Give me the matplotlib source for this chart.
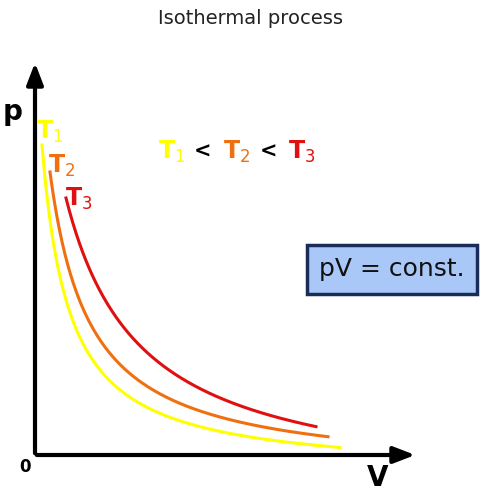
import numpy as np
import matplotlib.pyplot as plt

# isotherms p = k / (V + a) + b, in axis units (origin at bottom-left of the arrows)
labels = ['1', '2', '3']
colors = ['#ffff00', '#f07010', '#e01010']
k_vals = [8943, 12181, 22214]
a_vals = [20.1, 25.2, 43.8]
b_vals = [-20, -20, -40]
v_start = [7, 15, 31]
v_end = [305, 293, 281]

fig = plt.figure(figsize=(5, 5), dpi=100)
ax = fig.add_axes([0, 0, 1, 1])
ax.set_xlim(0, 500)
ax.set_ylim(500, 0)
ax.axis('off')

x0, y0 = 35, 455
for k, a, b, vs, ve, c in zip(k_vals, a_vals, b_vals, v_start, v_end, colors):
    v = np.linspace(vs, ve, 300)
    p = k / (v + a) + b
    ax.plot(x0 + v, y0 - p, color=c, lw=2.2)

# axes arrows
ax.annotate('', xy=(x0, 60), xytext=(x0, y0 + 1),
            arrowprops=dict(arrowstyle='-|>,head_width=0.5,head_length=1.3', color='black', lw=3))
ax.annotate('', xy=(418, y0), xytext=(x0 - 1, y0),
            arrowprops=dict(arrowstyle='-|>,head_width=0.5,head_length=1.3', color='black', lw=3))

ax.text(250, 18, 'Isothermal process', ha='center', va='center', fontsize=14, color='#222222')
ax.text(13, 112, 'p', ha='center', va='center', fontsize=20, fontweight='bold')
ax.text(378, 478, 'V', ha='center', va='center', fontsize=20, fontweight='bold')
ax.text(25, 467, '0', ha='center', va='center', fontsize=12, fontweight='bold')

label_pos = [(50, 132), (62, 166), (79, 199)]
for (lx, ly), l, c in zip(label_pos, labels, colors):
    ax.text(lx, ly, f'T$_{l}$', ha='center', va='center', fontsize=17,
            fontweight='bold', color=c)

ax.text(172, 152, 'T$_1$', ha='center', va='center', fontsize=17, fontweight='bold', color=colors[0])
ax.text(203, 152, '<', ha='center', va='center', fontsize=15, fontweight='bold')
ax.text(237, 152, 'T$_2$', ha='center', va='center', fontsize=17, fontweight='bold', color=colors[1])
ax.text(268, 152, '<', ha='center', va='center', fontsize=15, fontweight='bold')
ax.text(302, 152, 'T$_3$', ha='center', va='center', fontsize=17, fontweight='bold', color=colors[2])

ax.text(392, 269, 'pV = const.', ha='center', va='center', fontsize=18, color='#111111',
        bbox=dict(boxstyle='square,pad=0.5', fc='#a9c8f8', ec='#1a2c5a', lw=2.5))

fig.savefig('out.png', dpi=100)
